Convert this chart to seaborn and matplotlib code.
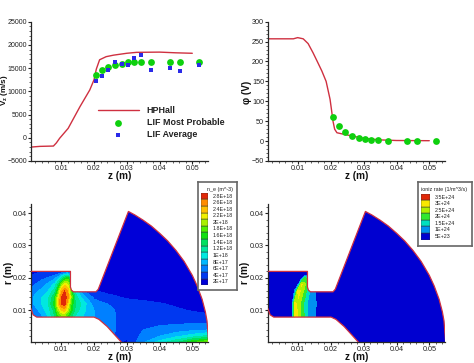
import numpy as np
import pandas as pd
import matplotlib
matplotlib.use("Agg")
import matplotlib.pyplot as plt
from matplotlib.patches import Polygon
from matplotlib.ticker import AutoMinorLocator
import seaborn as sns

# ---- profile data ----
line_z = [0.00075,0.0035,0.0076,0.0085,0.0095,0.0121,0.0157,0.0187,0.0200,0.0207,0.0217,0.0237,0.026,0.030,0.033,0.040,0.045,0.050]
line_vz = [-2000,-1850,-1780,-1100,-100,2035,6700,10300,12500,14800,16800,17470,17800,18200,18400,18450,18300,18200]
phi_line_z = [0.00075,0.0085,0.0098,0.0115,0.013,0.0145,0.0158,0.0172,0.0185,0.0197,0.0202,0.0206,0.0211,0.0218,0.024,0.027,0.030,0.035,0.040,0.050]
phi_line_v = [257,257,260,257,245,222,200,176,150,105,75,50,30,21,17,12,7,3,1.5,1]
lif_z = [0.0206,0.0225,0.0244,0.0264,0.0284,0.0303,0.0323,0.0343,0.0373,0.0433,0.0462,0.0520]
lif_most = [13500,14670,15300,15750,15960,16250,16320,16320,16400,16400,16400,16400]
lif_avg = [12300,13300,14670,16400,15960,15670,17250,17900,14600,15030,14450,15670]
lif_phi = [61,38,24,14,9,5,3,2,0,1,0,1]
x_ticks = [0.01,0.02,0.03,0.04,0.05]
vz_ticks = [-5000,0,5000,10000,15000,20000,25000]
phi_ticks = [-50,0,50,100,150,200,250,300]
r_ticks = [0.01,0.02,0.03,0.04]

# ---- channel geometry (z, r) ----
wall_z = [0.00075,0.0128,0.0128,0.0131,0.0137,0.0206,0.0213,0.0305,0.0325,0.035,0.0375,0.040,0.0425,0.045,0.0475,0.050,0.0515,0.053,0.054,0.0545,0.055]
wall_r = [0.0220,0.0220,0.0172,0.0162,0.0157,0.0157,0.0165,0.0405,0.0394,0.0378,0.0360,0.0338,0.0314,0.0285,0.0251,0.0208,0.0175,0.0134,0.0095,0.0067,0.0]
inner_z = [0.0285,0.0240,0.0215,0.0200,0.0025,0.0014,0.00075]
inner_r = [0.0,0.0050,0.0072,0.0079,0.0079,0.0086,0.0105]

# ---- electron density field, units of 1E17 m^-3 ----
ne_z = [0.0005,0.002,0.004,0.006,0.008,0.009,0.010,0.011,0.012,0.013,0.014,0.016,0.018,0.020,0.022,0.024,0.026,0.028,0.030,0.035,0.040,0.045,0.050,0.056]
ne_r = [0,0.002,0.004,0.006,0.008,0.010,0.012,0.014,0.016,0.018,0.020,0.022,0.045]
ne_r00 = [3,4,5.5,8,12,15,17,17,15,12.5,10,8.5,7,6,6,5,4,2,1.5,6,9,12,16,20]
ne_r02 = [3,4,5.5,8,12,15,17,17,15,12.5,10,8.5,7,6,6,5,4.2,2.5,2.5,4.5,6,7.5,9,11]
ne_r04 = [3,4,5.5,8,12,15,17,17,15,12.5,10,8.5,7,6,6,5,4.3,3,2.7,4,4.5,5,5.5,6]
ne_r06 = [3,4,5.5,8,12,15,17,17,15,12.5,10,8.5,7,6,6,5,4.3,3.2,3,3.5,3.7,3.8,3.9,4]
ne_r08 = [3,4,5.5,8,12,15,17,17,15,12.5,10,8.5,7,6,6,5,4.3,3.2,3,3,2.8,2.7,2.5,2.2]
ne_r10 = [4,5,7,9,13,18,22,23,19,15,12,9,7.5,6,5.5,5,4.2,3,3,2.8,2.6,2.2,1.9,1.7]
ne_r12 = [5,6.5,8,10,15,22,26,27,22,16,12.5,10,7.5,5,4.5,4,3.5,3,2.7,2.4,2.1,1.8,1.6,1.5]
ne_r14 = [5,6.5,8,9.5,14,20,26,27,25,18,12,8,5.5,3.6,3,2.6,2.3,2,1.8,1.6,1.5,1.4,1.3,1.2]
ne_r16 = [4.5,5.5,6.5,8,11,16,23,26,24,17,10,5.5,3,2.2,1.8,1.5,1.4,1.3,1.2,1.2,1.2,1.2,1.2,1.2]
ne_r18 = [3,4,5,6.5,8.5,12,17,21,20,14,7,3,2,1.5,1.3,1.2,1.2,1.2,1.2,1.2,1.2,1.2,1.2,1.2]
ne_r20 = [2.5,3,3.5,4.2,5.5,7,10,13,15,8,3,2,1.5,1.2,1.2,1.2,1.2,1.2,1.2,1.2,1.2,1.2,1.2,1.2]
ne_r22 = [1,1.5,1.8,1.9,1.9,1.9,1.9,3,3.5,3,1.5,1.2,1.2,1.2,1.2,1.2,1.2,1.2,1.2,1.2,1.2,1.2,1.2,1.2]
ne_r45 = [1]*24
ne_levels = [2,4,6,8,10,12,14,16,18,20,22,24,26,28]
ne_labels = ["2E+17","4E+17","6E+17","8E+17","1E+18","1.2E+18","1.4E+18","1.6E+18","1.8E+18","2E+18","2.2E+18","2.4E+18","2.6E+18","2.8E+18"]
ne_colors = ["#0000d8","#0038f0","#0080ff","#00b8ff","#00e8e0","#00e8a0","#00e060","#10e010","#50f000","#a8f000","#f0f000","#ffc000","#ff8c00","#e02808"]

# ---- ionization rate field, units of 1E23 1/m^3/s ----
io_z = [0.0005,0.007,0.008,0.009,0.010,0.011,0.012,0.013,0.014,0.015,0.016,0.017,0.056]
io_r = [0,0.008,0.012,0.016,0.018,0.020,0.021,0.045]
io_r00 = [0,0,1,28,24,19,14,9,8,6,3,0,0]
io_r08 = [0,0,1,28,24,19,14,9,8,6,3,0,0]
io_r12 = [0,0,2,27,23,18,13,9,8,6.5,3,0,0]
io_r16 = [0,0,0,6,28,23,18,12,8,6,3,0,0]
io_r18 = [0,0,0,0,5,26,21,15,8,5,2,0,0]
io_r20 = [0,0,0,0,0,3,16,12,5,2,0,0,0]
io_r21 = [0]*13
io_r45 = [0]*13
io_levels = [5,10,15,20,25,30,35]
io_labels = ["5E+23","1E+24","1.5E+24","2E+24","2.5E+24","3E+24","3.5E+24"]
io_colors = ["#0000d0","#0090f0","#00e0c0","#30e830","#b0f000","#f8e800","#ff8c00"]
io_colors_top = "#e02808"

sns.set_theme(style="ticks")
plt.rcParams.update({
    "font.family": ["Liberation Sans", "DejaVu Sans"],
    "mathtext.fontset": "custom",
    "mathtext.bf": "Liberation Sans:bold",
    "mathtext.rm": "Liberation Sans:bold",
    "mathtext.it": "Liberation Sans:bold",
    "axes.linewidth": 0.9,
})

W, H = 474, 363
fig = plt.figure(figsize=(W/100, H/100), dpi=100, facecolor="white")

def px_axes(x0, y0, x1, y1, **kw):
    return fig.add_axes([x0/W, 1-y1/H, (x1-x0)/W, (y1-y0)/H], **kw)

ax_v = px_axes(31, 21.7, 208, 161)
ax_p = px_axes(268, 21.7, 445, 161)
ax_n = px_axes(31, 204, 208, 342.3)
ax_i = px_axes(268, 204, 445, 342.3)

RED = "#cf3040"
GREEN = "#0ed00e"
BLUE = "#2a2ae8"

# top-left
sns.lineplot(x=line_z, y=line_vz, ax=ax_v, color=RED, lw=1.0, label="HPHall", sort=False, estimator=None)
sns.scatterplot(x=lif_z, y=lif_most, ax=ax_v, color=GREEN, s=24, linewidth=0, label="LIF Most Probable", zorder=3)
sns.scatterplot(x=lif_z, y=lif_avg, ax=ax_v, color=BLUE, marker="s", s=10, linewidth=0, label="LIF Average", zorder=4)
ax_v.set_ylim(-5000, 25000)
ax_v.set_yticks(vz_ticks)
leg = ax_v.legend(loc="upper left", bbox_to_anchor=(0.378, 0.395), frameon=False, borderpad=0, borderaxespad=0,
                  handlelength=4.6, handletextpad=0.9, labelspacing=0.36, prop={"weight": "bold", "size": 6.4})
for t in leg.get_texts():
    t.set_color("#222222")

# top-right
sns.lineplot(x=phi_line_z, y=phi_line_v, ax=ax_p, color=RED, lw=1.0, sort=False, estimator=None)
sns.scatterplot(x=lif_z, y=lif_phi, ax=ax_p, color=GREEN, s=24, linewidth=0, zorder=3)
ax_p.set_ylim(-50, 300)
ax_p.set_yticks(phi_ticks)

# contours
domain_z = wall_z + inner_z
domain_r = wall_r + inner_r
def field(ax, xs, ys, rows, levels, colors):
    edges = [0] + list(levels[:-1]) + [1000]
    cs = ax.contourf(xs, ys, np.array(rows), levels=edges, colors=colors)
    clip = Polygon(np.column_stack([domain_z, domain_r]), closed=True, transform=ax.transData)
    cs.set_clip_path(clip)
    ax.plot(wall_z, wall_r, color=RED, lw=0.9, zorder=5)
    ax.plot(inner_z, inner_r, color=RED, lw=0.9, zorder=5)
    ax.set_ylim(0.00012, 0.0428)
    ax.set_yticks(r_ticks)
    ax.set_yticklabels([f"{v:g}" for v in r_ticks])

field(ax_n, ne_z, ne_r, [ne_r00,ne_r02,ne_r04,ne_r06,ne_r08,ne_r10,ne_r12,ne_r14,ne_r16,ne_r18,ne_r20,ne_r22,ne_r45], ne_levels, ne_colors)
field(ax_i, io_z, io_r, [io_r00,io_r08,io_r12,io_r16,io_r18,io_r20,io_r21,io_r45], io_levels, io_colors[:6]+[io_colors_top])

# axes cosmetics
ylabels = {ax_v: ("V$_{\\mathbf{z}}$ (m/s)", 5.2, 90, 5.8), ax_p: ("φ (V)", 247, 92, 7.2), ax_n: ("r (m)", 9, 273, 7.2), ax_i: ("r (m)", 246, 273, 7.2)}
for ax in (ax_v, ax_p, ax_n, ax_i):
    ax.set_xlim(0.00075, 0.0548)
    ax.set_xticks(x_ticks)
    ax.set_xticklabels([f"{v:g}" for v in x_ticks])
    ax.xaxis.set_minor_locator(AutoMinorLocator(5))
    ax.yaxis.set_minor_locator(AutoMinorLocator(5))
    ax.tick_params(which="major", length=2.2, width=0.8, labelsize=5.0 if ax is ax_v else 5.2, pad=0.6, colors="#222222")
    ax.tick_params(which="minor", length=1.2, width=0.5, colors="#222222")
    ax.spines["top"].set_visible(False)
    ax.spines["right"].set_visible(False)
    ax.set_xlabel("z (m)", fontsize=7.2, fontweight="bold", color="#111111")
    box = ax.get_position()
    ax.xaxis.set_label_coords(0.499, -0.072)
    lab, xp, yp, fs = ylabels[ax]
    ax.set_ylabel(lab, fontsize=fs, fontweight="bold", color="#111111")
    x0 = box.x0 * W
    ax.yaxis.set_label_coords((xp + 4.5 - x0) / (box.width * W), 1 - (yp - (1-box.y1)*H) / (box.height * H))

# contour legends
def contour_legend(box, patch, title, labels, colors, title_x, text_x, fs):
    bx = px_axes(*box, zorder=10)
    bx.set_xticks([]); bx.set_yticks([])
    for s in bx.spines.values():
        s.set_color("#666666"); s.set_linewidth(1.2); s.set_visible(True)
    bx.set_facecolor("white")
    bx.text((title_x-box[0])/(box[2]-box[0]), (box[3]-(box[1]+7.5))/(box[3]-box[1]), title, fontsize=fs, color="#222222",
            ha="left", va="center", transform=bx.transAxes)
    px = px_axes(*patch, zorder=11)
    idx = np.arange(len(labels))
    px.barh(idx, [1]*len(idx), height=1.0, color=colors, edgecolor="#333333", linewidth=0.35)
    px.set_xlim(0, 1); px.set_ylim(-0.5, len(idx)-0.5)
    px.axis("off")
    for i, lab in zip(idx, labels):
        yy = patch[3] - (i+0.5)*(patch[3]-patch[1])/len(idx)
        bx.text((text_x-box[0])/(box[2]-box[0]), (box[3]-yy)/(box[3]-box[1]), lab, fontsize=fs, color="#222222",
                ha="left", va="center", transform=bx.transAxes)

contour_legend((197.5, 181.5, 236.5, 290), (200.7, 192.7, 208.3, 285.1), "n_e (m^-3)", ne_labels, ne_colors, 207, 212.7, 3.9)
contour_legend((417.5, 181.7, 472, 246), (421.3, 194, 430.3, 239.5), "ioniz rate (1/m^3/s)", io_labels,
               io_colors[:6]+[io_colors_top], 421, 434.5, 3.9)

fig.savefig("out.png", dpi=100)
